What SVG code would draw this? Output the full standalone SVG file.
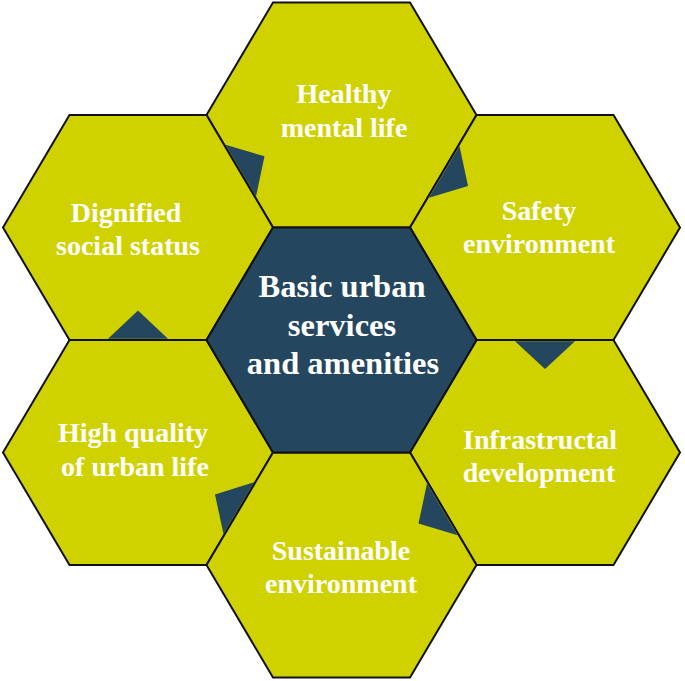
<svg xmlns="http://www.w3.org/2000/svg" xmlns:xlink="http://www.w3.org/1999/xlink" width="685" height="681" viewBox="0 0 685 681">
<style>
.hex{fill:#d0d200;stroke:#111;stroke-width:2;stroke-linejoin:miter}
.core{fill:#24475f;stroke:#111;stroke-width:2}
.arr{fill:#24475f;stroke:none}
text{font-family:"Liberation Serif","Times New Roman",serif;font-weight:bold;fill:#fff;text-anchor:middle}
.t{font-size:28px}
.tc{font-size:32.5px}
</style>
<defs>
<polygon id="hexshape" points="-135,0 -68.5,-112.5 68.5,-112.5 135,0 68.5,112.5 -68.5,112.5"/>
</defs>
<rect width="685" height="681" fill="#fff"/>
<g id="node-healthy">
<use xlink:href="#hexshape" class="hex" x="341.5" y="115"/>
<text class="t" x="344" y="103">Healthy</text>
<text class="t" x="344" y="137">mental life</text>
</g>
<g id="node-dignified">
<use xlink:href="#hexshape" class="hex" x="138" y="227.5"/>
<text class="t" x="126" y="222">Dignified</text>
<text class="t" x="128" y="255">social status</text>
</g>
<g id="node-safety">
<use xlink:href="#hexshape" class="hex" x="545" y="227.5"/>
<text class="t" x="539" y="220">Safety</text>
<text class="t" x="539" y="253">environment</text>
</g>
<g id="node-highquality">
<use xlink:href="#hexshape" class="hex" x="138" y="452.5"/>
<text class="t" x="133" y="442">High quality</text>
<text class="t" x="135" y="476">of urban life</text>
</g>
<g id="node-infra">
<use xlink:href="#hexshape" class="hex" x="545" y="452.5"/>
<text class="t" x="540" y="449">Infrastructal</text>
<text class="t" x="539" y="482">development</text>
</g>
<g id="node-sustainable">
<use xlink:href="#hexshape" class="hex" x="341.5" y="565"/>
<text class="t" x="341" y="560">Sustainable</text>
<text class="t" x="341" y="593">environment</text>
</g>
<g id="node-center">
<use xlink:href="#hexshape" class="core" x="341.5" y="340"/>
<text class="tc" x="342" y="297">Basic urban</text>
<text class="tc" x="342" y="336">services</text>
<text class="tc" x="343" y="374">and amenities</text>
</g>
<g id="connectors">
<polygon class="arr" points="225.5,144.8 256,196.5 264.5,156.3"/>
<polygon class="arr" points="459.5,146 429,197.7 468,186"/>
<polygon class="arr" points="515,341.2 575,341.2 545,369"/>
<polygon class="arr" points="427,483.5 457.5,535.2 418.5,523.5"/>
<polygon class="arr" points="254,482.3 223.5,534 215,494.5"/>
<polygon class="arr" points="108,338.8 168,338.8 138,310.5"/>
</g>
</svg>
